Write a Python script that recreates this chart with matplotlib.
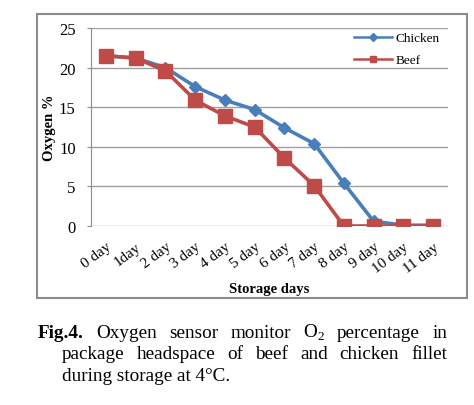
import matplotlib
matplotlib.use("Agg")
import matplotlib.pyplot as plt
from matplotlib.patches import Rectangle

days = ["0 day", "1day", "2 day", "3 day", "4 day", "5 day", "6 day", "7 day",
        "8 day", "9 day", "10 day", "11 day"]
chicken = [21.5, 21.2, 20.0, 17.6, 15.9, 14.7, 12.4, 10.4, 5.4, 0.6, 0.1, 0.1]
beef = [21.5, 21.2, 19.6, 15.9, 13.9, 12.5, 8.6, 5.1, 0.0, 0.0, 0.0, 0.0]
yticks = [0, 5, 10, 15, 20, 25]

W, H = 474, 406
plt.rcParams['font.family'] = ['Liberation Serif', 'DejaVu Serif']
plt.rcParams['mathtext.fontset'] = 'custom'
plt.rcParams['mathtext.rm'] = 'Liberation Serif'

fig = plt.figure(figsize=(W / 100, H / 100), dpi=100)

def fx(px):
    return px / W

def fy(py):
    return 1 - py / H

# outer frame
fig.patches.append(Rectangle((fx(37), fy(299)), fx(467) - fx(37), fy(15) - fy(299),
                             transform=fig.transFigure, fill=False,
                             edgecolor='#8c8c8c', linewidth=1.5))

ax = fig.add_axes([fx(91), fy(227), fx(448) - fx(91), fy(29) - fy(227)])
x = list(range(len(days)))
ax.plot(x, chicken, color='#4a7ebb', linewidth=2.6, marker='D', markersize=6.5,
        label='Chicken', zorder=3)
ax.plot(x, beef, color='#be4b48', linewidth=2.6, marker='s', markersize=10,
        label='Beef', zorder=4)
ax.set_xlim(-0.5, len(days) - 0.5)
ax.set_ylim(0, 25)
ax.set_yticks(yticks)
ax.set_yticklabels([str(v) for v in yticks], fontsize=12)
ax.set_xticks(x)
ax.set_xticklabels(days, rotation=37, ha='right', rotation_mode='anchor', fontsize=11)
ax.tick_params(axis='x', length=0, pad=10)
ax.tick_params(axis='y', length=3, color='#8c8c8c', pad=8)
ax.grid(axis='y', color='#a0a0a0', linewidth=1)
ax.set_axisbelow(True)
for s in ['top', 'right', 'bottom']:
    ax.spines[s].set_visible(False)
ax.spines['left'].set_color('#8c8c8c')
ax.set_ylabel('Oxygen %', fontsize=10.5, fontweight='bold', labelpad=2)
ax.set_xlabel('Storage days', fontsize=10.5, fontweight='bold')
ax.xaxis.set_label_coords(0.5, -0.285)
leg = ax.legend(loc='upper right', frameon=False, fontsize=9.5, handlelength=2.9,
                labelspacing=0.75, bbox_to_anchor=(1.0, 1.02), handletextpad=0.3,
                borderaxespad=0.2)
for h in leg.legend_handles:
    h.set_markersize(4 if h.get_label() == 'Chicken' else 5)
    h.set_linewidth(1.8)

# caption with justified lines
fs = 13.8
lines = [
    (["Fig.4.", "Oxygen", "sensor", "monitor", r"O$_2$", "percentage", "in"], 38, 447, 333, True),
    (["package", "headspace", "of", "beef", "and", "chicken", "fillet"], 62, 447, 355, True),
    (["during storage at 4°C."], 62, None, 377, False),
]
fig.canvas.draw()
r = fig.canvas.get_renderer()
for words, x0, x1, yc, just in lines:
    texts = []
    for w in words:
        wt = 'bold' if w == "Fig.4." else 'normal'
        t = fig.text(fx(x0), fy(yc), w, fontsize=fs, fontweight=wt, va='center', ha='left')
        texts.append(t)
    if just and len(texts) > 1:
        widths = [t.get_window_extent(r).width for t in texts]
        gap = (x1 - x0 - sum(widths)) / (len(texts) - 1)
        pos = x0
        for t, wd in zip(texts, widths):
            t.set_x(fx(pos))
            pos += wd + gap

fig.savefig('out.png', dpi=100)
